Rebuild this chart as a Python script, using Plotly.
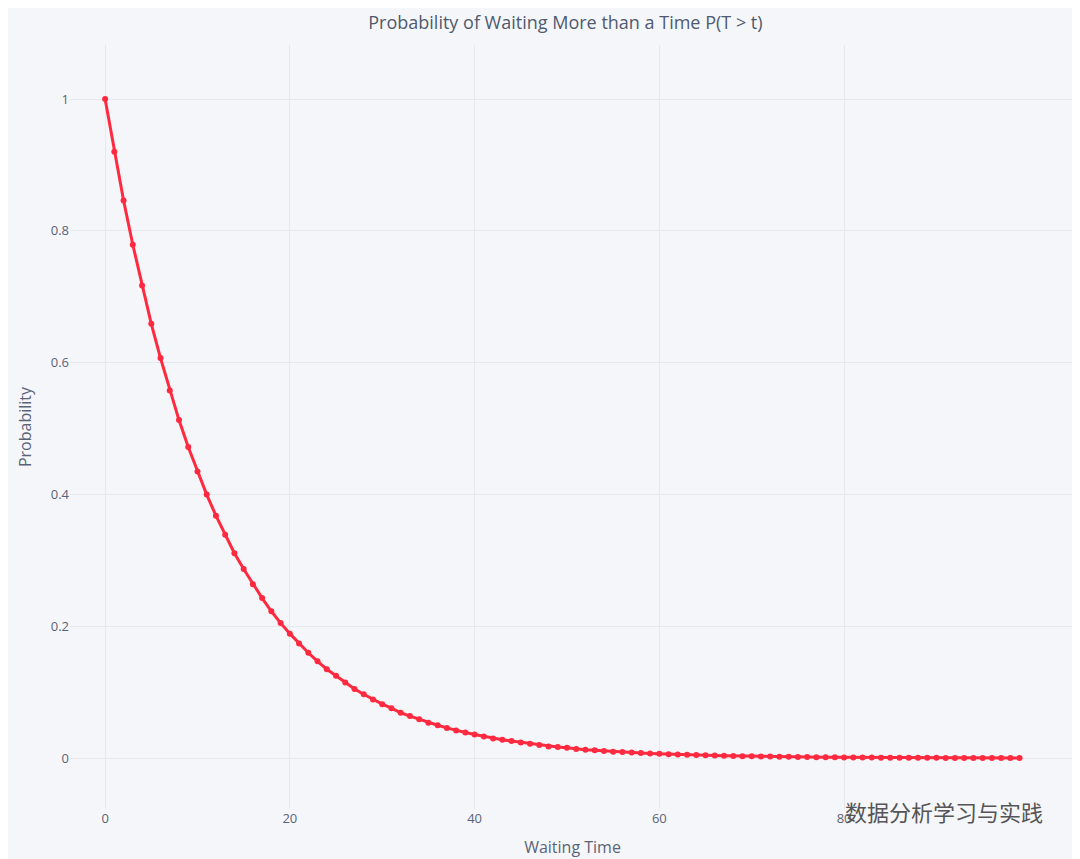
import plotly.graph_objects as go

waiting_time = list(range(100))
probability = [1, .920, .846, .779, .717, .659, .607, .558, .513, .472,
    .435, .400, .368, .339, .311, .287, .264, .243, .223, .205,
    .189, .174, .160, .147, .135, .125, .115, .105, .097, .089,
    .082, .076, .069, .064, .059, .054, .050, .046, .042, .039,
    .036, .033, .030, .028, .026, .024, .022, .020, .018, .017,
    .016, .014, .013, .012, .011, .010, .0094, .0087, .0080, .0073,
    .0067, .0062, .0057, .0052, .0048, .0044, .0041, .0038, .0035, .0032,
    .0029, .0027, .0025, .0023, .0021, .0019, .0018, .0016, .0015, .0014,
    .0013, .0012, .0011, .0010, .0009, .0008, .0008, .0007, .0007, .0006,
    .0006, .0005, .0005, .0004, .0004, .0004, .0003, .0003, .0003, .0003]

fig = go.Figure(go.Scatter(x=waiting_time, y=probability, mode="lines+markers",
    line=dict(color="#FF2A3F", width=3), marker=dict(size=6, color="#FF2A3F")))

bg = "#F5F6FA"
fig.update_layout(
    width=1072, height=851, paper_bgcolor=bg, plot_bgcolor=bg,
    font=dict(family="Open Sans", color="#5a6478", size=13),
    title=dict(text="Probability of Waiting More than a Time P(T > t)", x=0.52, y=0.99,
               font=dict(size=18, color="#4f5a6e")),
    margin=dict(l=62, r=5, t=37, b=50),
    xaxis=dict(title=dict(text="Waiting Time", font=dict(size=16)), range=[-3.8, 105],
               gridcolor="#E6E8EE", zeroline=False, tickvals=[0, 20, 40, 60, 80], showline=False),
    yaxis=dict(title=dict(text="Probability", font=dict(size=16)), range=[-0.077, 1.082],
               gridcolor="#E6E8EE", zeroline=False, tickvals=[0, 0.2, 0.4, 0.6, 0.8, 1]),
    showlegend=False,
)
fig.add_annotation(text="数据分析学习与实践", xref="paper", yref="paper", x=0.97, y=-0.002,
    showarrow=False, xanchor="right", yanchor="middle",
    font=dict(family="Noto Sans CJK SC", size=22, color="#555555"))
fig.write_html("out.html")
